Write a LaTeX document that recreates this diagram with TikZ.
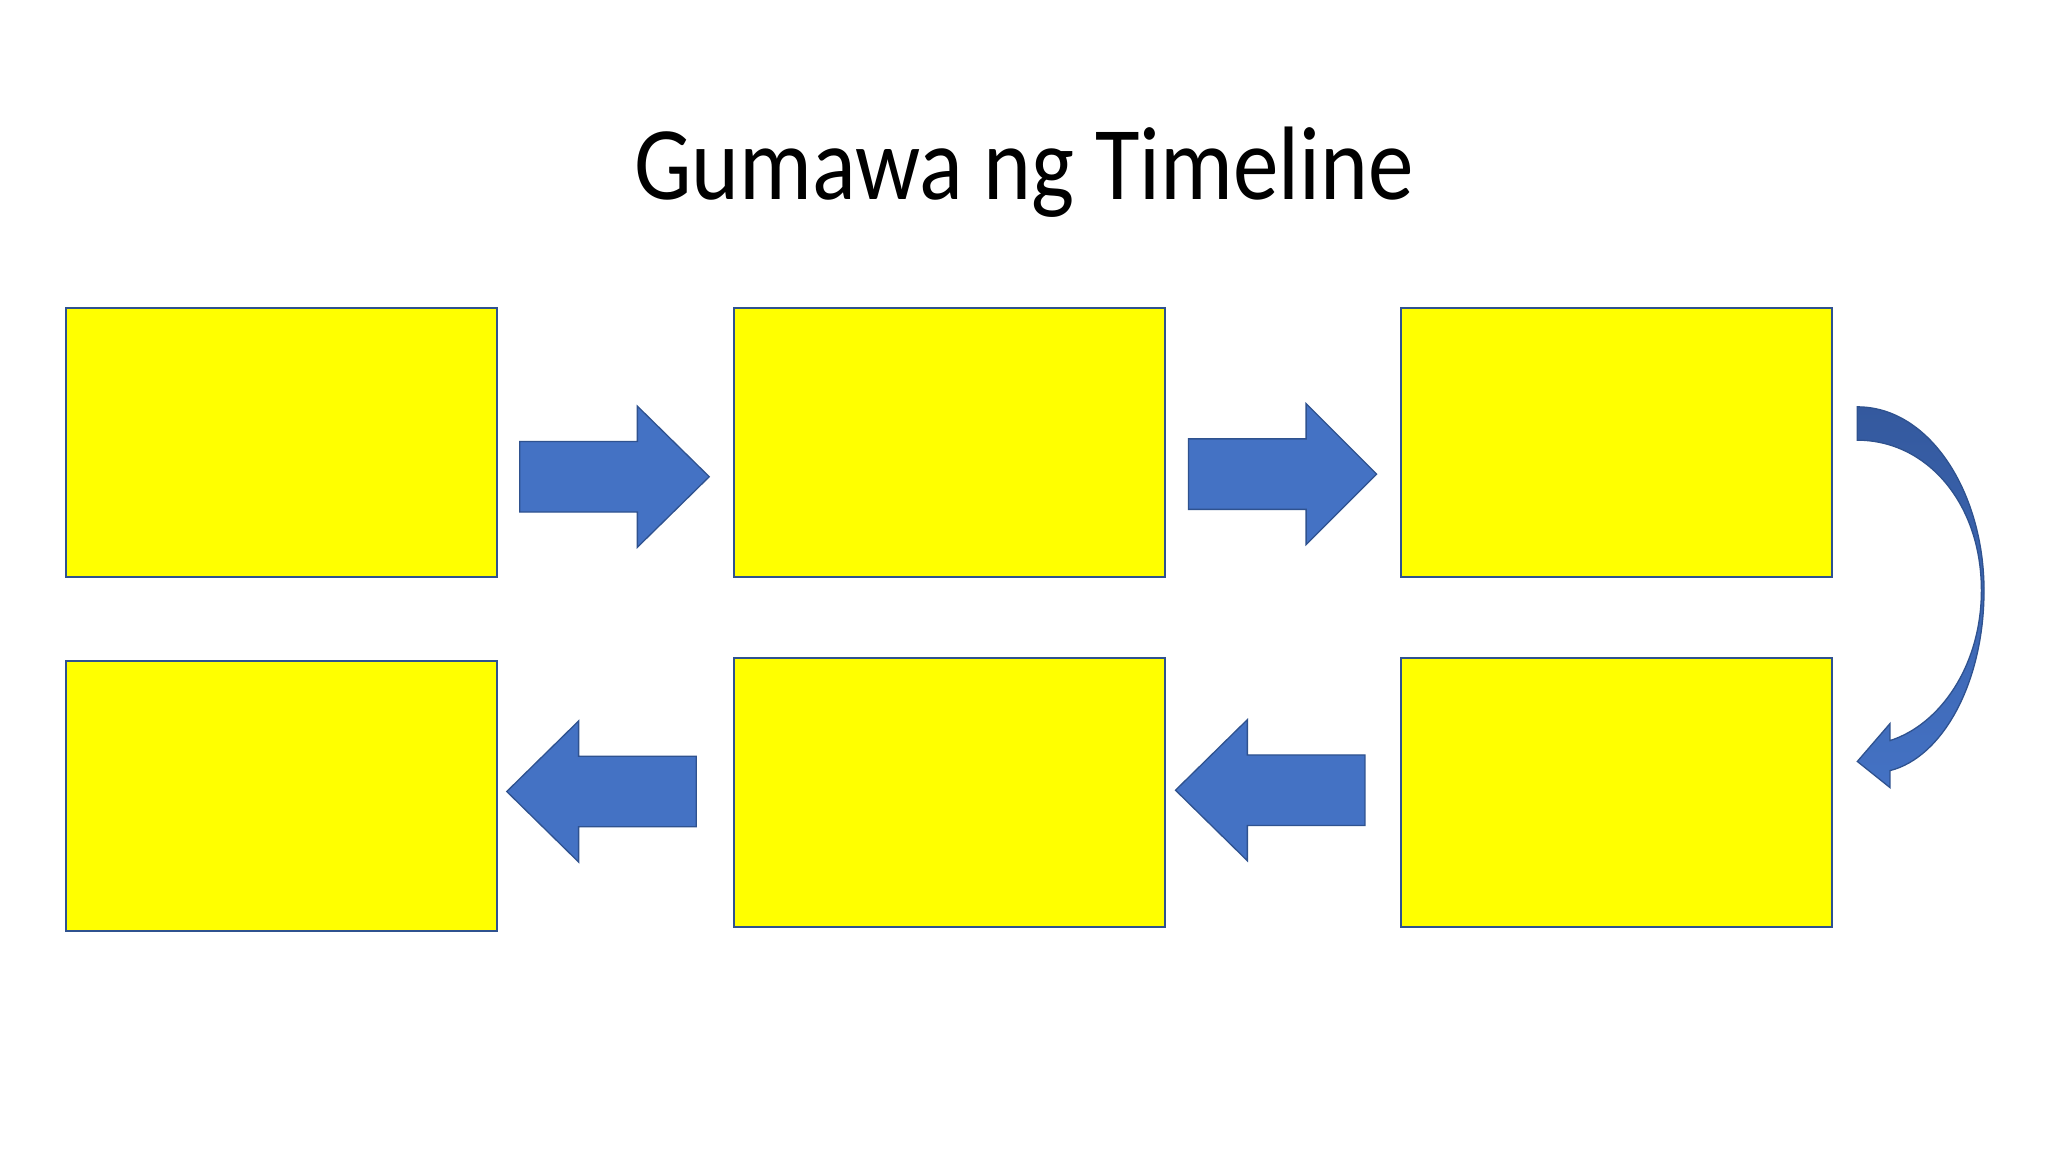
\documentclass[tikz,border=0pt]{standalone}
\usepackage{fontspec}
\setmainfont{Carlito}
\definecolor{boxyellow}{HTML}{FFFF00}
\definecolor{edgeblue}{HTML}{2F528F}
\definecolor{arrowblue}{HTML}{4472C4}
\definecolor{darkarrow}{HTML}{34599E}
\begin{document}
\begin{tikzpicture}[x=1pt,y=-1pt,
  panel/.style={draw=edgeblue,fill=boxyellow,line width=1.5pt,minimum width=330pt,minimum height=206pt,inner sep=0pt,anchor=north west},
  blockarrow/.style={draw=edgeblue,fill=arrowblue,line width=1pt,line join=miter}]
\useasboundingbox[fill=white] (0,0) rectangle (1568,882);
\node[font=\fontsize{80}{90}\selectfont,anchor=base,xscale=0.872] (title) at (784,153) {Gumawa ng Timeline};
% boxes
\node[panel] (b1) at (50,235) {};
\node[panel] (b2) at (561,235) {};
\node[panel] (b3) at (1072,235) {};
\node[panel] (b4) at (1072,503) {};
\node[panel] (b5) at (561,503) {};
\node[panel,minimum height=207pt] (b6) at (50,505) {};
% right arrows
\draw[blockarrow] (398,338) -- (488,338) -- (488,311) -- (543,365) -- (488,419) -- (488,392) -- (398,392) -- cycle;
\draw[blockarrow] (910,336) -- (1000,336) -- (1000,309) -- (1054,363) -- (1000,417) -- (1000,390) -- (910,390) -- cycle;
% left arrows
\draw[blockarrow] (1045,578) -- (955,578) -- (955,551) -- (900,605) -- (955,659) -- (955,632) -- (1045,632) -- cycle;
\draw[blockarrow] (533,579) -- (443,579) -- (443,552) -- (388,606) -- (443,660) -- (443,633) -- (533,633) -- cycle;
% curved arrow
\draw[draw=edgeblue,line width=1pt,line join=miter,top color=darkarrow,bottom color=arrowblue]
  (1422,311.5) .. controls (1478,311.5) and (1519,378) .. (1519,452)
  .. controls (1519,523) and (1487,580) .. (1447,590)
  -- (1447,603) -- (1422,583) -- (1447,554) -- (1447,567)
  .. controls (1485,555) and (1517,510) .. (1517,452)
  .. controls (1517,385) and (1475,337) .. (1422,337) -- cycle;
\end{tikzpicture}
\end{document}
